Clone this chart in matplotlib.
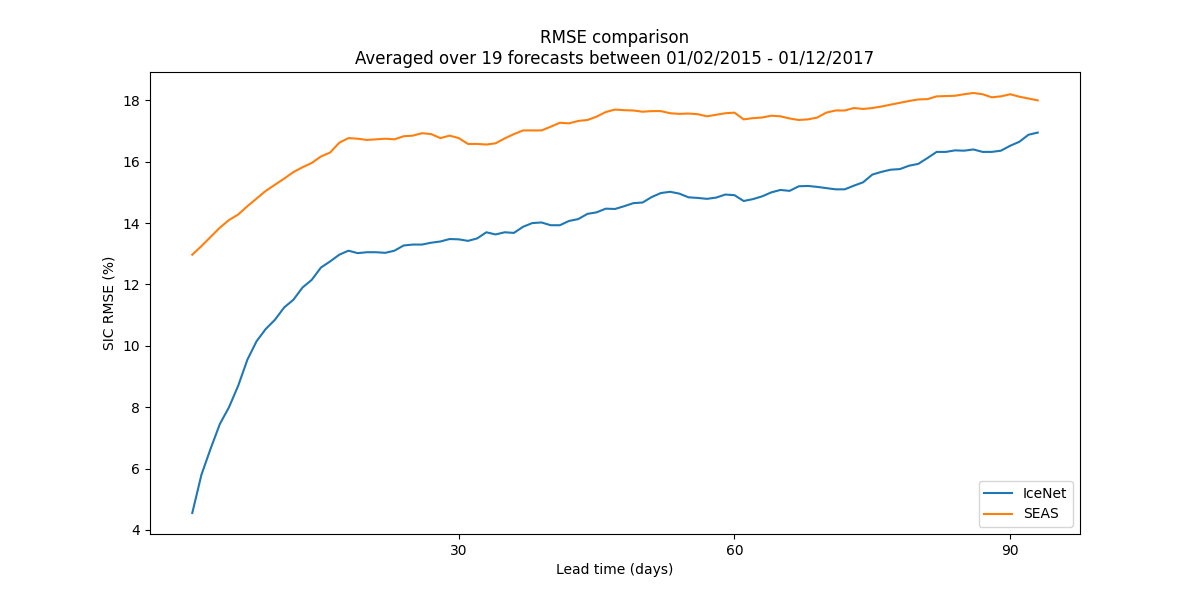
import matplotlib
matplotlib.use('Agg')
from matplotlib import pyplot as plt
import numpy as np

lead_days = np.arange(1, 94)

icenet_rmse = [4.55, 5.8, 6.65, 7.45, 8.0, 8.7, 9.55, 10.15, 10.55, 10.85,
               11.25, 11.5, 11.9, 12.15, 12.55, 12.75, 12.97, 13.1, 13.02, 13.05,
               13.05, 13.03, 13.1, 13.27, 13.3, 13.3, 13.36, 13.4, 13.48, 13.47,
               13.42, 13.5, 13.7, 13.63, 13.7, 13.68, 13.88, 14.0, 14.02, 13.93,
               13.93, 14.07, 14.13, 14.3, 14.35, 14.47, 14.46, 14.55, 14.65, 14.67,
               14.85, 14.98, 15.02, 14.96, 14.84, 14.82, 14.79, 14.83, 14.93, 14.91,
               14.72, 14.78, 14.87, 15.0, 15.08, 15.05, 15.2, 15.21, 15.18, 15.14,
               15.1, 15.1, 15.22, 15.33, 15.58, 15.67, 15.74, 15.76, 15.87, 15.93,
               16.12, 16.32, 16.32, 16.37, 16.36, 16.4, 16.32, 16.32, 16.36, 16.52,
               16.65, 16.88, 16.95]

seas_rmse = [12.97, 13.25, 13.55, 13.85, 14.1, 14.28, 14.55, 14.8, 15.05, 15.25,
             15.45, 15.66, 15.82, 15.96, 16.17, 16.3, 16.62, 16.77, 16.75, 16.71,
             16.73, 16.75, 16.73, 16.83, 16.85, 16.93, 16.9, 16.77, 16.85, 16.77,
             16.58, 16.58, 16.56, 16.6, 16.76, 16.9, 17.02, 17.02, 17.02, 17.14,
             17.27, 17.25, 17.33, 17.36, 17.47, 17.62, 17.7, 17.68, 17.67, 17.63,
             17.65, 17.65, 17.58, 17.56, 17.57, 17.55, 17.48, 17.53, 17.58, 17.6,
             17.38, 17.42, 17.44, 17.5, 17.48, 17.41, 17.36, 17.38, 17.44, 17.6,
             17.67, 17.67, 17.75, 17.72, 17.75, 17.8, 17.86, 17.92, 17.98, 18.03,
             18.04, 18.13, 18.14, 18.15, 18.2, 18.24, 18.2, 18.1, 18.13, 18.2,
             18.12, 18.06, 18.0]

fig, ax = plt.subplots(figsize=(12, 6), dpi=100)
ax.plot(lead_days, icenet_rmse, label='IceNet')
ax.plot(lead_days, seas_rmse, label='SEAS')
ax.set_xticks([30, 60, 90])
ax.set_xlabel('Lead time (days)')
ax.set_ylabel('SIC RMSE (%)')
ax.set_title('RMSE comparison\nAveraged over 19 forecasts between 01/02/2015 - 01/12/2017')
ax.legend(loc='lower right')
fig.savefig('out.png')
